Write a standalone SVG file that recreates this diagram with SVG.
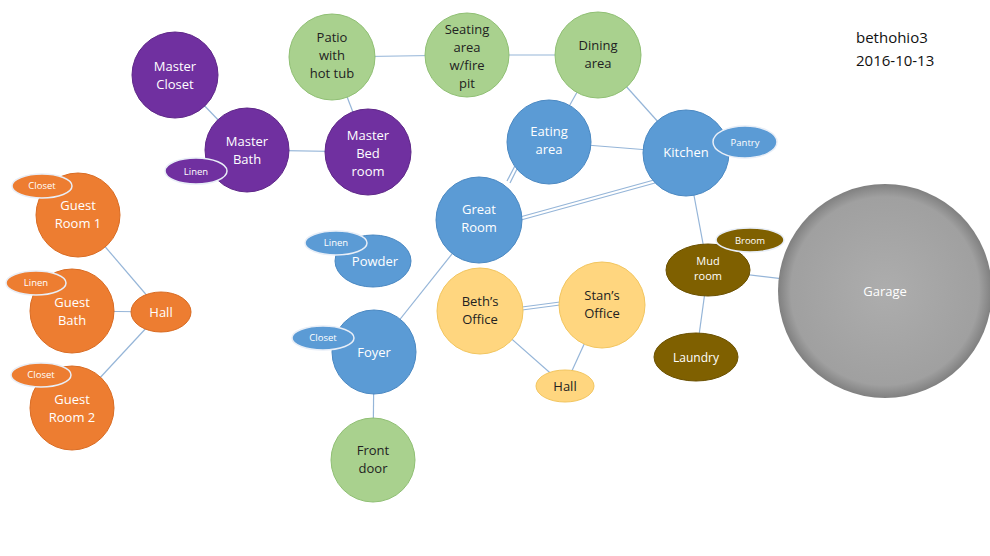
<svg xmlns="http://www.w3.org/2000/svg" width="990" height="556" viewBox="0 0 990 556">
<style>
text{font-family:"Open Sans","Liberation Sans",sans-serif;text-anchor:middle;font-size:13px;fill:#fff}
.g{fill:#a9d18e;stroke:#8fbf73}.p{fill:#7030a0;stroke:#5e2688}.o{fill:#ed7d31;stroke:#d96b22}
.b{fill:#5b9bd5;stroke:#4a88c2}.y{fill:#ffd67f;stroke:#f2c55e}.m{fill:#7f6000;stroke:#6a5000}
.s{stroke:#e8eef7;stroke-width:1.5}.dk{fill:#222}.sm{font-size:9.5px}
#conn line{stroke:#95b5d8;stroke-width:1.2}
</style>
<defs><radialGradient id="gg" cx="0.5" cy="0.5" r="0.5"><stop offset="0" stop-color="#adadad"/><stop offset="0.88" stop-color="#a0a0a0"/><stop offset="1" stop-color="#808080"/></radialGradient></defs>
<rect width="990" height="556" fill="#fff"/>
<g id="conn">
<line x1="332" y1="57" x2="467" y2="55"/><line x1="467" y1="55" x2="598" y2="55"/>
<line x1="332" y1="57" x2="368" y2="152"/><line x1="175" y1="75" x2="247" y2="150"/>
<line x1="247" y1="150" x2="368" y2="152"/>
<line x1="598" y1="55" x2="549" y2="142"/><line x1="598" y1="55" x2="686" y2="153"/>
<line x1="549" y1="142" x2="686" y2="153"/>
<line x1="518" y1="160" x2="507" y2="181"/><line x1="521" y1="161" x2="510" y2="183"/>
<line x1="520" y1="217" x2="654" y2="180"/><line x1="521" y1="220" x2="655" y2="183"/>
<line x1="479" y1="220" x2="374" y2="352"/><line x1="374" y1="352" x2="373" y2="460"/>
<line x1="522" y1="307" x2="560" y2="302"/><line x1="522" y1="310" x2="560" y2="305"/>
<line x1="480" y1="311" x2="565" y2="386"/><line x1="602" y1="305" x2="565" y2="386"/>
<line x1="686" y1="153" x2="708" y2="270"/><line x1="708" y1="270" x2="885" y2="291"/>
<line x1="708" y1="270" x2="696" y2="357"/>
<line x1="78" y1="215" x2="161" y2="312"/><line x1="72" y1="311" x2="161" y2="312"/>
<line x1="72" y1="408" x2="161" y2="312"/>
</g>
<g id="patio"><circle class="g" cx="332" cy="57" r="43"/><text x="332" y="42" class="dk">Patio</text><text x="332" y="60" class="dk">with</text><text x="332" y="78" class="dk">hot tub</text></g>
<g id="seating"><circle class="g" cx="467" cy="55" r="42"/><text x="467" y="34" class="dk">Seating</text><text x="467" y="52" class="dk">area</text><text x="467" y="70" class="dk">w/fire</text><text x="467" y="88" class="dk">pit</text></g>
<g id="dining"><circle class="g" cx="598" cy="55" r="43"/><text x="598" y="50" class="dk">Dining</text><text x="598" y="68" class="dk">area</text></g>
<g id="mcloset"><circle class="p" cx="175" cy="75" r="43"/><text x="175" y="71">Master</text><text x="175" y="89">Closet</text></g>
<g id="mbath"><circle class="p" cx="247" cy="150" r="42"/><text x="247" y="146">Master</text><text x="247" y="164">Bath</text><ellipse class="p s" cx="196" cy="171" rx="31" ry="13"/><text x="196" y="175" class="sm">Linen</text></g>
<g id="mbed"><circle class="p" cx="368" cy="152" r="43"/><text x="368" y="140">Master</text><text x="368" y="158">Bed</text><text x="368" y="176">room</text></g>
<g id="eating"><circle class="b" cx="549" cy="142" r="42"/><text x="549" y="136">Eating</text><text x="549" y="154">area</text></g>
<g id="kitchen"><circle class="b" cx="686" cy="153" r="43"/><text x="686" y="157">Kitchen</text><ellipse class="b s" cx="745" cy="142" rx="32" ry="16"/><text x="745" y="146" class="sm">Pantry</text></g>
<g id="great"><circle class="b" cx="479" cy="220" r="43"/><text x="479" y="214">Great</text><text x="479" y="232">Room</text></g>
<g id="powder"><ellipse class="b" cx="373" cy="261" rx="38" ry="26"/><text x="375" y="266">Powder</text><ellipse class="b s" cx="336" cy="243" rx="31" ry="12"/><text x="336" y="246" class="sm">Linen</text></g>
<g id="foyer"><circle class="b" cx="374" cy="352" r="42"/><text x="374" y="357">Foyer</text><ellipse class="b s" cx="323" cy="338" rx="31" ry="12"/><text x="323" y="341" class="sm">Closet</text></g>
<g id="front"><circle class="g" cx="373" cy="460" r="42"/><text x="373" y="455" class="dk">Front</text><text x="373" y="473" class="dk">door</text></g>
<g id="beth"><circle class="y" cx="480" cy="311" r="43"/><text x="480" y="306" class="dk">Beth’s</text><text x="480" y="324" class="dk">Office</text></g>
<g id="stan"><circle class="y" cx="602" cy="305" r="43"/><text x="602" y="300" class="dk">Stan’s</text><text x="602" y="318" class="dk">Office</text></g>
<g id="hall2"><ellipse class="y" cx="565" cy="386" rx="29" ry="16"/><text x="565" y="391" class="dk">Hall</text></g>
<g id="mud"><ellipse class="m" cx="708" cy="270" rx="42" ry="26"/><text x="708" y="265" style="font-size:11px">Mud</text><text x="708" y="280" style="font-size:11px">room</text><ellipse class="m s" cx="750" cy="240" rx="34" ry="12"/><text x="750" y="244" class="sm">Broom</text></g>
<g id="laundry"><ellipse class="m" cx="696" cy="357" rx="42" ry="24"/><text x="696" y="362" style="font-size:12px">Laundry</text></g>
<g id="garage"><circle fill="url(#gg)" cx="885" cy="291" r="107"/><text x="885" y="296">Garage</text></g>
<g id="guest1"><circle class="o" cx="78" cy="215" r="42"/><text x="78" y="210">Guest</text><text x="78" y="228">Room 1</text><ellipse class="o s" cx="42" cy="186" rx="30" ry="12"/><text x="42" y="189" class="sm">Closet</text></g>
<g id="gbath"><circle class="o" cx="72" cy="311" r="42"/><text x="72" y="307">Guest</text><text x="72" y="325">Bath</text><ellipse class="o s" cx="36" cy="283" rx="30" ry="12"/><text x="36" y="286" class="sm">Linen</text></g>
<g id="guest2"><circle class="o" cx="72" cy="408" r="42"/><text x="72" y="404">Guest</text><text x="72" y="422">Room 2</text><ellipse class="o s" cx="41" cy="375" rx="30" ry="12"/><text x="41" y="378" class="sm">Closet</text></g>
<g id="hall1"><ellipse class="o" cx="161" cy="312" rx="30" ry="20"/><text x="161" y="317">Hall</text></g>
<g id="label"><text x="856" y="43" style="text-anchor:start;fill:#111;font-size:15px">bethohio3</text><text x="856" y="66" style="text-anchor:start;fill:#111;font-size:15px">2016-10-13</text></g>
</svg>
